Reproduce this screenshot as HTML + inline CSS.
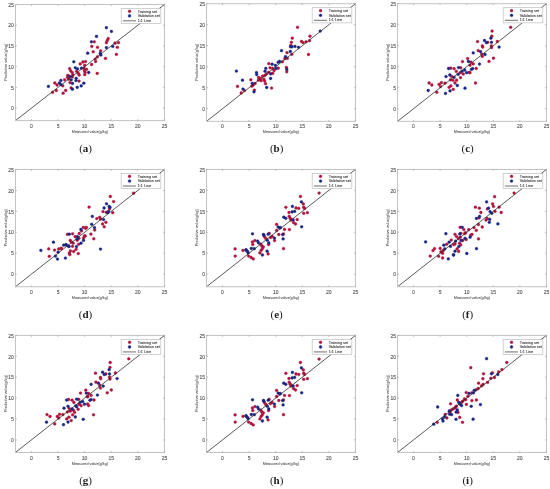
<!DOCTYPE html>
<html><head><meta charset="utf-8"><style>
html,body{margin:0;padding:0;background:#fff;}
svg{display:block;}
.r{fill:#ba0f3c;stroke:#9e1739;stroke-width:0.4;}
.b{fill:#16248e;stroke:#1b2672;stroke-width:0.4;}
.ax{fill:none;stroke:#c2c2c2;stroke-width:1;}
.tk{fill:none;stroke:#999;stroke-width:0.6;}
.d{stroke:#2a2a2a;stroke-width:0.78;}
.ll{stroke:#6e6e6e;stroke-width:1;}
.lg{fill:#fff;stroke:#b4b4b4;stroke-width:0.6;}
.tl{font-family:"Liberation Sans",Arial,sans-serif;font-size:5px;fill:#505050;stroke:#505050;stroke-width:0.1;}
.al{font-family:"Liberation Sans",Arial,sans-serif;font-size:3.75px;fill:#505050;stroke:#505050;stroke-width:0.05;}
.yl{font-size:3.85px;}
.lt{font-family:"Liberation Sans",Arial,sans-serif;font-size:3.75px;fill:#333;stroke:#333;stroke-width:0.08;}
.pl{font-family:"Liberation Serif","Times New Roman",serif;font-size:11px;fill:#1a1a1a;}
.pb{font-weight:bold;}
</style></head><body>
<svg width="550" height="489" viewBox="0 0 550 489">
<circle class="r" cx="94.3" cy="41.8" r="1.4"/>
<circle class="r" cx="108.2" cy="38.6" r="1.4"/>
<circle class="r" cx="107.3" cy="40.5" r="1.4"/>
<circle class="r" cx="106.4" cy="42.7" r="1.4"/>
<circle class="r" cx="115" cy="43.2" r="1.4"/>
<circle class="r" cx="118.5" cy="42.7" r="1.4"/>
<circle class="r" cx="91.8" cy="46.4" r="1.4"/>
<circle class="r" cx="97.5" cy="47.3" r="1.4"/>
<circle class="r" cx="117.3" cy="47.3" r="1.4"/>
<circle class="r" cx="93.2" cy="51.8" r="1.4"/>
<circle class="r" cx="100.6" cy="50.9" r="1.4"/>
<circle class="r" cx="116.4" cy="54.4" r="1.4"/>
<circle class="r" cx="97.4" cy="56.8" r="1.4"/>
<circle class="r" cx="95.2" cy="59.1" r="1.4"/>
<circle class="r" cx="105.5" cy="58.4" r="1.4"/>
<circle class="r" cx="95.6" cy="61.6" r="1.4"/>
<circle class="r" cx="80.2" cy="63.9" r="1.4"/>
<circle class="r" cx="82.9" cy="62" r="1.4"/>
<circle class="r" cx="85.5" cy="61.6" r="1.4"/>
<circle class="r" cx="84.7" cy="65.3" r="1.4"/>
<circle class="r" cx="91.6" cy="64.5" r="1.4"/>
<circle class="r" cx="84" cy="68.2" r="1.4"/>
<circle class="r" cx="86.5" cy="69.3" r="1.4"/>
<circle class="r" cx="84.4" cy="70.7" r="1.4"/>
<circle class="r" cx="85.1" cy="72.5" r="1.4"/>
<circle class="r" cx="84.7" cy="74.7" r="1.4"/>
<circle class="r" cx="97.2" cy="73.4" r="1.4"/>
<circle class="r" cx="69.6" cy="68.7" r="1.4"/>
<circle class="r" cx="70.8" cy="71" r="1.4"/>
<circle class="r" cx="72.3" cy="72.7" r="1.4"/>
<circle class="r" cx="72.8" cy="75" r="1.4"/>
<circle class="r" cx="76.6" cy="71.3" r="1.4"/>
<circle class="r" cx="78.3" cy="73.4" r="1.4"/>
<circle class="r" cx="79.2" cy="75.1" r="1.4"/>
<circle class="r" cx="67.8" cy="75.3" r="1.4"/>
<circle class="r" cx="67.5" cy="77.4" r="1.4"/>
<circle class="r" cx="72.4" cy="76.9" r="1.4"/>
<circle class="r" cx="68.6" cy="79.2" r="1.4"/>
<circle class="r" cx="70" cy="82.6" r="1.4"/>
<circle class="r" cx="79" cy="81.1" r="1.4"/>
<circle class="r" cx="64.6" cy="79.8" r="1.4"/>
<circle class="r" cx="54.8" cy="83" r="1.4"/>
<circle class="r" cx="57" cy="85" r="1.4"/>
<circle class="r" cx="62.8" cy="85.8" r="1.4"/>
<circle class="r" cx="56.3" cy="90.5" r="1.4"/>
<circle class="r" cx="52.6" cy="92.3" r="1.4"/>
<circle class="r" cx="65.7" cy="90.5" r="1.4"/>
<circle class="r" cx="63.1" cy="93.2" r="1.4"/>
<circle class="r" cx="71.1" cy="87.9" r="1.4"/>
<circle class="b" cx="106.4" cy="27.7" r="1.4"/>
<circle class="b" cx="111.4" cy="31.4" r="1.4"/>
<circle class="b" cx="96.5" cy="36.4" r="1.4"/>
<circle class="b" cx="91.4" cy="41.8" r="1.4"/>
<circle class="b" cx="106.4" cy="47.7" r="1.4"/>
<circle class="b" cx="112.7" cy="46.4" r="1.4"/>
<circle class="b" cx="87.7" cy="53.2" r="1.4"/>
<circle class="b" cx="100.2" cy="53.4" r="1.4"/>
<circle class="b" cx="100.9" cy="55" r="1.4"/>
<circle class="b" cx="73.8" cy="61.8" r="1.4"/>
<circle class="b" cx="75.3" cy="67.8" r="1.4"/>
<circle class="b" cx="77.5" cy="68.9" r="1.4"/>
<circle class="b" cx="81.5" cy="68.2" r="1.4"/>
<circle class="b" cx="88.7" cy="72.5" r="1.4"/>
<circle class="b" cx="69.8" cy="76.4" r="1.4"/>
<circle class="b" cx="71.2" cy="79.8" r="1.4"/>
<circle class="b" cx="72.5" cy="83.4" r="1.4"/>
<circle class="b" cx="76.2" cy="78.3" r="1.4"/>
<circle class="b" cx="76" cy="80.6" r="1.4"/>
<circle class="b" cx="60.9" cy="80.5" r="1.4"/>
<circle class="b" cx="59.4" cy="83" r="1.4"/>
<circle class="b" cx="60.9" cy="84.7" r="1.4"/>
<circle class="b" cx="48.4" cy="86.4" r="1.4"/>
<circle class="b" cx="72.4" cy="89.2" r="1.4"/>
<circle class="b" cx="77.2" cy="87.4" r="1.4"/>
<circle class="b" cx="81.2" cy="85.9" r="1.4"/>
<circle class="b" cx="83.8" cy="83.2" r="1.4"/>
<line x1="15.45" y1="120.6" x2="164.45" y2="4.45" class="d"/>
<rect x="15.45" y="4.45" width="149" height="116.15" class="ax"/>
<path d="M31.41 120.6v-1.5M31.41 4.45v1.5M15.45 108.16h1.5M164.45 108.16h-1.5M58.02 120.6v-1.5M58.02 4.45v1.5M15.45 87.41h1.5M164.45 87.41h-1.5M84.63 120.6v-1.5M84.63 4.45v1.5M15.45 66.67h1.5M164.45 66.67h-1.5M111.24 120.6v-1.5M111.24 4.45v1.5M15.45 45.93h1.5M164.45 45.93h-1.5M137.84 120.6v-1.5M137.84 4.45v1.5M15.45 25.19h1.5M164.45 25.19h-1.5M164.45 120.6v-1.5M164.45 4.45v1.5M15.45 4.45h1.5M164.45 4.45h-1.5" class="tk"/>
<text x="31.41" y="128.3" class="tl" text-anchor="middle">0</text>
<text x="13.85" y="110.36" class="tl" text-anchor="end">0</text>
<text x="58.02" y="128.3" class="tl" text-anchor="middle">5</text>
<text x="13.85" y="89.61" class="tl" text-anchor="end">5</text>
<text x="84.63" y="128.3" class="tl" text-anchor="middle">10</text>
<text x="13.85" y="68.87" class="tl" text-anchor="end">10</text>
<text x="111.24" y="128.3" class="tl" text-anchor="middle">15</text>
<text x="13.85" y="48.13" class="tl" text-anchor="end">15</text>
<text x="137.84" y="128.3" class="tl" text-anchor="middle">20</text>
<text x="13.85" y="27.39" class="tl" text-anchor="end">20</text>
<text x="164.45" y="128.3" class="tl" text-anchor="middle">25</text>
<text x="13.85" y="6.65" class="tl" text-anchor="end">25</text>
<text x="89.95" y="133.2" class="al" text-anchor="middle">Measured value(g/kg)</text>
<text transform="translate(6.55,62.23) rotate(-90)" class="al yl" text-anchor="middle">Predictive value(g/kg)</text>
<rect x="121.15" y="8.4" width="39.7" height="15" class="lg"/>
<circle class="r" cx="129.55" cy="11.3" r="1.4"/>
<circle class="b" cx="129.55" cy="15.95" r="1.4"/>
<line x1="122.85" y1="20.85" x2="135.95" y2="20.85" class="ll"/>
<text x="137.65" y="12.65" class="lt">Training set</text>
<text x="137.65" y="17.15" class="lt">Validation set</text>
<text x="137.65" y="21.75" class="lt">1:1 Line</text>
<text x="85.55" y="152" class="pl" text-anchor="middle">(<tspan class="pb">a</tspan>)</text>
<circle class="r" cx="297.5" cy="27.3" r="1.4"/>
<circle class="r" cx="310" cy="36.2" r="1.4"/>
<circle class="r" cx="292.3" cy="38.2" r="1.4"/>
<circle class="r" cx="291.4" cy="42.3" r="1.4"/>
<circle class="r" cx="301.4" cy="41.4" r="1.4"/>
<circle class="r" cx="303" cy="42.6" r="1.4"/>
<circle class="r" cx="306" cy="41.8" r="1.4"/>
<circle class="r" cx="309.5" cy="40.7" r="1.4"/>
<circle class="r" cx="290.9" cy="45.3" r="1.4"/>
<circle class="r" cx="287" cy="52.7" r="1.4"/>
<circle class="r" cx="291.8" cy="54.3" r="1.4"/>
<circle class="r" cx="308.5" cy="54.5" r="1.4"/>
<circle class="r" cx="284.8" cy="58.6" r="1.4"/>
<circle class="r" cx="287.3" cy="58.4" r="1.4"/>
<circle class="r" cx="282.3" cy="61.8" r="1.4"/>
<circle class="r" cx="268.8" cy="63.7" r="1.4"/>
<circle class="r" cx="270" cy="67.8" r="1.4"/>
<circle class="r" cx="272.6" cy="68.4" r="1.4"/>
<circle class="r" cx="278.2" cy="68.2" r="1.4"/>
<circle class="r" cx="274.1" cy="70.5" r="1.4"/>
<circle class="r" cx="286.4" cy="67.5" r="1.4"/>
<circle class="r" cx="286.8" cy="71.8" r="1.4"/>
<circle class="r" cx="268.7" cy="72.3" r="1.4"/>
<circle class="r" cx="272.7" cy="73.3" r="1.4"/>
<circle class="r" cx="266.5" cy="73.9" r="1.4"/>
<circle class="r" cx="264.9" cy="75.5" r="1.4"/>
<circle class="r" cx="262.5" cy="76.1" r="1.4"/>
<circle class="r" cx="258.6" cy="77.5" r="1.4"/>
<circle class="r" cx="260.3" cy="78.5" r="1.4"/>
<circle class="r" cx="258.4" cy="80.2" r="1.4"/>
<circle class="r" cx="261.1" cy="80.7" r="1.4"/>
<circle class="r" cx="263.8" cy="79.1" r="1.4"/>
<circle class="r" cx="264.6" cy="81" r="1.4"/>
<circle class="r" cx="265.5" cy="83.7" r="1.4"/>
<circle class="r" cx="250.8" cy="79.8" r="1.4"/>
<circle class="r" cx="255.1" cy="83.5" r="1.4"/>
<circle class="r" cx="253.2" cy="85.1" r="1.4"/>
<circle class="r" cx="251.8" cy="86.2" r="1.4"/>
<circle class="r" cx="271.6" cy="88.1" r="1.4"/>
<circle class="r" cx="254.4" cy="90.1" r="1.4"/>
<circle class="r" cx="237.5" cy="86.4" r="1.4"/>
<circle class="r" cx="244.4" cy="90.6" r="1.4"/>
<circle class="r" cx="241.2" cy="92.9" r="1.4"/>
<circle class="b" cx="320.2" cy="31.1" r="1.4"/>
<circle class="b" cx="290.5" cy="46.8" r="1.4"/>
<circle class="b" cx="292" cy="46.8" r="1.4"/>
<circle class="b" cx="295" cy="46.4" r="1.4"/>
<circle class="b" cx="298.5" cy="47.3" r="1.4"/>
<circle class="b" cx="281.5" cy="50.7" r="1.4"/>
<circle class="b" cx="290.3" cy="51.5" r="1.4"/>
<circle class="b" cx="285.5" cy="56.7" r="1.4"/>
<circle class="b" cx="279.5" cy="61.4" r="1.4"/>
<circle class="b" cx="278.2" cy="62.3" r="1.4"/>
<circle class="b" cx="272.1" cy="64.2" r="1.4"/>
<circle class="b" cx="275.4" cy="65.3" r="1.4"/>
<circle class="b" cx="276" cy="68.5" r="1.4"/>
<circle class="b" cx="286.8" cy="69.4" r="1.4"/>
<circle class="b" cx="265.8" cy="68.4" r="1.4"/>
<circle class="b" cx="265" cy="71.2" r="1.4"/>
<circle class="b" cx="270.6" cy="73.9" r="1.4"/>
<circle class="b" cx="270.6" cy="78.5" r="1.4"/>
<circle class="b" cx="256.5" cy="72.6" r="1.4"/>
<circle class="b" cx="256.7" cy="74.6" r="1.4"/>
<circle class="b" cx="252.3" cy="83.3" r="1.4"/>
<circle class="b" cx="266.7" cy="87.5" r="1.4"/>
<circle class="b" cx="254" cy="91.8" r="1.4"/>
<circle class="b" cx="236.4" cy="71.1" r="1.4"/>
<circle class="b" cx="242.5" cy="80.2" r="1.4"/>
<circle class="b" cx="243" cy="89.1" r="1.4"/>
<line x1="206.55" y1="121.35" x2="355.45" y2="3.7" class="d"/>
<rect x="206.55" y="3.7" width="148.9" height="117.65" class="ax"/>
<path d="M222.5 121.35v-1.5M222.5 3.7v1.5M206.55 108.74h1.5M355.45 108.74h-1.5M249.09 121.35v-1.5M249.09 3.7v1.5M206.55 87.74h1.5M355.45 87.74h-1.5M275.68 121.35v-1.5M275.68 3.7v1.5M206.55 66.73h1.5M355.45 66.73h-1.5M302.27 121.35v-1.5M302.27 3.7v1.5M206.55 45.72h1.5M355.45 45.72h-1.5M328.86 121.35v-1.5M328.86 3.7v1.5M206.55 24.71h1.5M355.45 24.71h-1.5M355.45 121.35v-1.5M355.45 3.7v1.5M206.55 3.7h1.5M355.45 3.7h-1.5" class="tk"/>
<text x="222.5" y="128.3" class="tl" text-anchor="middle">0</text>
<text x="204.95" y="110.94" class="tl" text-anchor="end">0</text>
<text x="249.09" y="128.3" class="tl" text-anchor="middle">5</text>
<text x="204.95" y="89.94" class="tl" text-anchor="end">5</text>
<text x="275.68" y="128.3" class="tl" text-anchor="middle">10</text>
<text x="204.95" y="68.93" class="tl" text-anchor="end">10</text>
<text x="302.27" y="128.3" class="tl" text-anchor="middle">15</text>
<text x="204.95" y="47.92" class="tl" text-anchor="end">15</text>
<text x="328.86" y="128.3" class="tl" text-anchor="middle">20</text>
<text x="204.95" y="26.91" class="tl" text-anchor="end">20</text>
<text x="355.45" y="128.3" class="tl" text-anchor="middle">25</text>
<text x="204.95" y="5.9" class="tl" text-anchor="end">25</text>
<text x="281" y="133.2" class="al" text-anchor="middle">Measured value(g/kg)</text>
<text transform="translate(197.65,62.23) rotate(-90)" class="al yl" text-anchor="middle">Predictive value(g/kg)</text>
<rect x="312.15" y="7.7" width="39.7" height="15.19" class="lg"/>
<circle class="r" cx="320.55" cy="10.64" r="1.4"/>
<circle class="b" cx="320.55" cy="15.35" r="1.4"/>
<line x1="313.85" y1="20.31" x2="326.95" y2="20.31" class="ll"/>
<text x="328.65" y="12.01" class="lt">Training set</text>
<text x="328.65" y="16.56" class="lt">Validation set</text>
<text x="328.65" y="21.22" class="lt">1:1 Line</text>
<text x="276.65" y="152" class="pl" text-anchor="middle">(<tspan class="pb">b</tspan>)</text>
<circle class="r" cx="510.7" cy="27.3" r="1.4"/>
<circle class="r" cx="492.1" cy="31.1" r="1.4"/>
<circle class="r" cx="491.8" cy="36.2" r="1.4"/>
<circle class="r" cx="487.7" cy="42.3" r="1.4"/>
<circle class="r" cx="497.3" cy="41.5" r="1.4"/>
<circle class="r" cx="477.5" cy="41.6" r="1.4"/>
<circle class="r" cx="482.3" cy="45.9" r="1.4"/>
<circle class="r" cx="482.7" cy="47.1" r="1.4"/>
<circle class="r" cx="491.4" cy="45.9" r="1.4"/>
<circle class="r" cx="491.5" cy="47.5" r="1.4"/>
<circle class="r" cx="478.2" cy="50.7" r="1.4"/>
<circle class="r" cx="481.8" cy="54.1" r="1.4"/>
<circle class="r" cx="482.3" cy="56.4" r="1.4"/>
<circle class="r" cx="493.4" cy="58.2" r="1.4"/>
<circle class="r" cx="467.7" cy="58.6" r="1.4"/>
<circle class="r" cx="489" cy="61.4" r="1.4"/>
<circle class="r" cx="462.5" cy="61.6" r="1.4"/>
<circle class="r" cx="470.9" cy="62.1" r="1.4"/>
<circle class="r" cx="473.2" cy="63.9" r="1.4"/>
<circle class="r" cx="470" cy="65.2" r="1.4"/>
<circle class="r" cx="476.2" cy="68.5" r="1.4"/>
<circle class="r" cx="470" cy="72.7" r="1.4"/>
<circle class="r" cx="469.1" cy="72.3" r="1.4"/>
<circle class="r" cx="450.8" cy="68.2" r="1.4"/>
<circle class="r" cx="454.1" cy="68.7" r="1.4"/>
<circle class="r" cx="460.8" cy="67.8" r="1.4"/>
<circle class="r" cx="456.3" cy="71.4" r="1.4"/>
<circle class="r" cx="463.3" cy="74.1" r="1.4"/>
<circle class="r" cx="460.5" cy="72.7" r="1.4"/>
<circle class="r" cx="451.7" cy="76.4" r="1.4"/>
<circle class="r" cx="460.5" cy="77.7" r="1.4"/>
<circle class="r" cx="450.5" cy="79.8" r="1.4"/>
<circle class="r" cx="452.8" cy="80.3" r="1.4"/>
<circle class="r" cx="456.6" cy="80.2" r="1.4"/>
<circle class="r" cx="455" cy="83" r="1.4"/>
<circle class="r" cx="475.5" cy="83" r="1.4"/>
<circle class="r" cx="441.4" cy="82.7" r="1.4"/>
<circle class="r" cx="429.1" cy="83" r="1.4"/>
<circle class="r" cx="431.8" cy="85" r="1.4"/>
<circle class="r" cx="439.1" cy="84.3" r="1.4"/>
<circle class="r" cx="440.5" cy="86.6" r="1.4"/>
<circle class="r" cx="445" cy="83.2" r="1.4"/>
<circle class="r" cx="449.1" cy="87.3" r="1.4"/>
<circle class="r" cx="450.9" cy="85.9" r="1.4"/>
<circle class="r" cx="453.2" cy="89.4" r="1.4"/>
<circle class="r" cx="436.8" cy="92.3" r="1.4"/>
<circle class="b" cx="490.9" cy="38.2" r="1.4"/>
<circle class="b" cx="484.5" cy="40.5" r="1.4"/>
<circle class="b" cx="486.4" cy="42.7" r="1.4"/>
<circle class="b" cx="491.5" cy="42.3" r="1.4"/>
<circle class="b" cx="499.1" cy="47.1" r="1.4"/>
<circle class="b" cx="480.5" cy="51.6" r="1.4"/>
<circle class="b" cx="473.2" cy="52.9" r="1.4"/>
<circle class="b" cx="485" cy="54.5" r="1.4"/>
<circle class="b" cx="468.4" cy="61.5" r="1.4"/>
<circle class="b" cx="479.5" cy="64.1" r="1.4"/>
<circle class="b" cx="472.7" cy="68.6" r="1.4"/>
<circle class="b" cx="471.4" cy="69.4" r="1.4"/>
<circle class="b" cx="448.6" cy="68.5" r="1.4"/>
<circle class="b" cx="458.6" cy="67.6" r="1.4"/>
<circle class="b" cx="462" cy="71.3" r="1.4"/>
<circle class="b" cx="464.7" cy="70" r="1.4"/>
<circle class="b" cx="466.6" cy="72.7" r="1.4"/>
<circle class="b" cx="458.2" cy="74.3" r="1.4"/>
<circle class="b" cx="449.8" cy="75" r="1.4"/>
<circle class="b" cx="446" cy="76.6" r="1.4"/>
<circle class="b" cx="454.1" cy="77.4" r="1.4"/>
<circle class="b" cx="457.3" cy="85.5" r="1.4"/>
<circle class="b" cx="450" cy="90.9" r="1.4"/>
<circle class="b" cx="428.2" cy="90.5" r="1.4"/>
<circle class="b" cx="445.5" cy="93.4" r="1.4"/>
<circle class="b" cx="465" cy="88.2" r="1.4"/>
<line x1="397.55" y1="121.35" x2="546.45" y2="3.7" class="d"/>
<rect x="397.55" y="3.7" width="148.9" height="117.65" class="ax"/>
<path d="M413.5 121.35v-1.5M413.5 3.7v1.5M397.55 108.74h1.5M546.45 108.74h-1.5M440.09 121.35v-1.5M440.09 3.7v1.5M397.55 87.74h1.5M546.45 87.74h-1.5M466.68 121.35v-1.5M466.68 3.7v1.5M397.55 66.73h1.5M546.45 66.73h-1.5M493.27 121.35v-1.5M493.27 3.7v1.5M397.55 45.72h1.5M546.45 45.72h-1.5M519.86 121.35v-1.5M519.86 3.7v1.5M397.55 24.71h1.5M546.45 24.71h-1.5M546.45 121.35v-1.5M546.45 3.7v1.5M397.55 3.7h1.5M546.45 3.7h-1.5" class="tk"/>
<text x="413.5" y="128.3" class="tl" text-anchor="middle">0</text>
<text x="395.95" y="110.94" class="tl" text-anchor="end">0</text>
<text x="440.09" y="128.3" class="tl" text-anchor="middle">5</text>
<text x="395.95" y="89.94" class="tl" text-anchor="end">5</text>
<text x="466.68" y="128.3" class="tl" text-anchor="middle">10</text>
<text x="395.95" y="68.93" class="tl" text-anchor="end">10</text>
<text x="493.27" y="128.3" class="tl" text-anchor="middle">15</text>
<text x="395.95" y="47.92" class="tl" text-anchor="end">15</text>
<text x="519.86" y="128.3" class="tl" text-anchor="middle">20</text>
<text x="395.95" y="26.91" class="tl" text-anchor="end">20</text>
<text x="546.45" y="128.3" class="tl" text-anchor="middle">25</text>
<text x="395.95" y="5.9" class="tl" text-anchor="end">25</text>
<text x="472" y="133.2" class="al" text-anchor="middle">Measured value(g/kg)</text>
<text transform="translate(388.65,62.23) rotate(-90)" class="al yl" text-anchor="middle">Predictive value(g/kg)</text>
<rect x="503.15" y="7.7" width="39.7" height="15.19" class="lg"/>
<circle class="r" cx="511.55" cy="10.64" r="1.4"/>
<circle class="b" cx="511.55" cy="15.35" r="1.4"/>
<line x1="504.85" y1="20.31" x2="517.95" y2="20.31" class="ll"/>
<text x="519.65" y="12.01" class="lt">Training set</text>
<text x="519.65" y="16.56" class="lt">Validation set</text>
<text x="519.65" y="21.22" class="lt">1:1 Line</text>
<text x="467.65" y="152" class="pl" text-anchor="middle">(<tspan class="pb">c</tspan>)</text>
<circle class="r" cx="133.6" cy="193.2" r="1.4"/>
<circle class="r" cx="110.3" cy="196.5" r="1.4"/>
<circle class="r" cx="113.6" cy="201.6" r="1.4"/>
<circle class="r" cx="109.5" cy="208.8" r="1.4"/>
<circle class="r" cx="89.1" cy="207.1" r="1.4"/>
<circle class="r" cx="103" cy="211.6" r="1.4"/>
<circle class="r" cx="106.2" cy="212.3" r="1.4"/>
<circle class="r" cx="112.7" cy="212.7" r="1.4"/>
<circle class="r" cx="96.8" cy="218.6" r="1.4"/>
<circle class="r" cx="99.7" cy="217.3" r="1.4"/>
<circle class="r" cx="100.6" cy="219.2" r="1.4"/>
<circle class="r" cx="105.9" cy="222.3" r="1.4"/>
<circle class="r" cx="102.6" cy="224" r="1.4"/>
<circle class="r" cx="104.2" cy="226.8" r="1.4"/>
<circle class="r" cx="94.7" cy="230" r="1.4"/>
<circle class="r" cx="86.4" cy="227.4" r="1.4"/>
<circle class="r" cx="83.3" cy="227.4" r="1.4"/>
<circle class="r" cx="85.5" cy="228.3" r="1.4"/>
<circle class="r" cx="81.5" cy="230.9" r="1.4"/>
<circle class="r" cx="90.9" cy="234.1" r="1.4"/>
<circle class="r" cx="93.8" cy="238.8" r="1.4"/>
<circle class="r" cx="67.4" cy="234.3" r="1.4"/>
<circle class="r" cx="72.6" cy="233.8" r="1.4"/>
<circle class="r" cx="79.2" cy="233.5" r="1.4"/>
<circle class="r" cx="75.1" cy="236.7" r="1.4"/>
<circle class="r" cx="78.9" cy="238.3" r="1.4"/>
<circle class="r" cx="77.2" cy="240.3" r="1.4"/>
<circle class="r" cx="85.2" cy="236" r="1.4"/>
<circle class="r" cx="83.6" cy="238" r="1.4"/>
<circle class="r" cx="84.5" cy="235.9" r="1.4"/>
<circle class="r" cx="78.6" cy="244.3" r="1.4"/>
<circle class="r" cx="70.2" cy="240.4" r="1.4"/>
<circle class="r" cx="71.2" cy="241.8" r="1.4"/>
<circle class="r" cx="73.1" cy="243.2" r="1.4"/>
<circle class="r" cx="72.5" cy="246.3" r="1.4"/>
<circle class="r" cx="61.1" cy="248.5" r="1.4"/>
<circle class="r" cx="76.1" cy="249.4" r="1.4"/>
<circle class="r" cx="70.4" cy="251" r="1.4"/>
<circle class="r" cx="73.7" cy="251.5" r="1.4"/>
<circle class="r" cx="69.3" cy="253.1" r="1.4"/>
<circle class="r" cx="78.3" cy="253.6" r="1.4"/>
<circle class="r" cx="48.7" cy="248.9" r="1.4"/>
<circle class="r" cx="54.6" cy="250.1" r="1.4"/>
<circle class="r" cx="58.7" cy="248.9" r="1.4"/>
<circle class="r" cx="61.2" cy="248.5" r="1.4"/>
<circle class="r" cx="49.3" cy="256.3" r="1.4"/>
<circle class="r" cx="69.8" cy="254.6" r="1.4"/>
<circle class="b" cx="106.5" cy="203.8" r="1.4"/>
<circle class="b" cx="109.1" cy="206.4" r="1.4"/>
<circle class="b" cx="110" cy="207.3" r="1.4"/>
<circle class="b" cx="104.1" cy="208" r="1.4"/>
<circle class="b" cx="108.5" cy="211.4" r="1.4"/>
<circle class="b" cx="107.7" cy="212.7" r="1.4"/>
<circle class="b" cx="92.3" cy="216.4" r="1.4"/>
<circle class="b" cx="103.6" cy="219.6" r="1.4"/>
<circle class="b" cx="91.7" cy="224.3" r="1.4"/>
<circle class="b" cx="94.5" cy="227.6" r="1.4"/>
<circle class="b" cx="80.9" cy="229.4" r="1.4"/>
<circle class="b" cx="69.3" cy="234.2" r="1.4"/>
<circle class="b" cx="77.4" cy="236.6" r="1.4"/>
<circle class="b" cx="77.2" cy="238.9" r="1.4"/>
<circle class="b" cx="83.5" cy="240.4" r="1.4"/>
<circle class="b" cx="81" cy="243.2" r="1.4"/>
<circle class="b" cx="63.7" cy="245.2" r="1.4"/>
<circle class="b" cx="65.9" cy="244.7" r="1.4"/>
<circle class="b" cx="68.6" cy="246.3" r="1.4"/>
<circle class="b" cx="76.4" cy="246.6" r="1.4"/>
<circle class="b" cx="100.5" cy="249.1" r="1.4"/>
<circle class="b" cx="53.4" cy="242.2" r="1.4"/>
<circle class="b" cx="40.9" cy="250.4" r="1.4"/>
<circle class="b" cx="58.1" cy="252.2" r="1.4"/>
<circle class="b" cx="66.5" cy="245" r="1.4"/>
<circle class="b" cx="69" cy="246.5" r="1.4"/>
<circle class="b" cx="55.5" cy="256.1" r="1.4"/>
<circle class="b" cx="57.5" cy="259.1" r="1.4"/>
<circle class="b" cx="65.4" cy="258.1" r="1.4"/>
<line x1="15.45" y1="286.75" x2="164.45" y2="169.45" class="d"/>
<rect x="15.45" y="169.45" width="149" height="117.3" class="ax"/>
<path d="M31.41 286.75v-1.5M31.41 169.45v1.5M15.45 274.18h1.5M164.45 274.18h-1.5M58.02 286.75v-1.5M58.02 169.45v1.5M15.45 253.24h1.5M164.45 253.24h-1.5M84.63 286.75v-1.5M84.63 169.45v1.5M15.45 232.29h1.5M164.45 232.29h-1.5M111.24 286.75v-1.5M111.24 169.45v1.5M15.45 211.34h1.5M164.45 211.34h-1.5M137.84 286.75v-1.5M137.84 169.45v1.5M15.45 190.4h1.5M164.45 190.4h-1.5M164.45 286.75v-1.5M164.45 169.45v1.5M15.45 169.45h1.5M164.45 169.45h-1.5" class="tk"/>
<text x="31.41" y="294.3" class="tl" text-anchor="middle">0</text>
<text x="13.85" y="276.38" class="tl" text-anchor="end">0</text>
<text x="58.02" y="294.3" class="tl" text-anchor="middle">5</text>
<text x="13.85" y="255.44" class="tl" text-anchor="end">5</text>
<text x="84.63" y="294.3" class="tl" text-anchor="middle">10</text>
<text x="13.85" y="234.49" class="tl" text-anchor="end">10</text>
<text x="111.24" y="294.3" class="tl" text-anchor="middle">15</text>
<text x="13.85" y="213.54" class="tl" text-anchor="end">15</text>
<text x="137.84" y="294.3" class="tl" text-anchor="middle">20</text>
<text x="13.85" y="192.6" class="tl" text-anchor="end">20</text>
<text x="164.45" y="294.3" class="tl" text-anchor="middle">25</text>
<text x="13.85" y="171.65" class="tl" text-anchor="end">25</text>
<text x="89.95" y="299.2" class="al" text-anchor="middle">Measured value(g/kg)</text>
<text transform="translate(6.55,227.8) rotate(-90)" class="al yl" text-anchor="middle">Predictive value(g/kg)</text>
<rect x="121.15" y="173.44" width="39.7" height="15.15" class="lg"/>
<circle class="r" cx="129.55" cy="176.37" r="1.4"/>
<circle class="b" cx="129.55" cy="181.06" r="1.4"/>
<line x1="122.85" y1="186.01" x2="135.95" y2="186.01" class="ll"/>
<text x="137.65" y="177.73" class="lt">Training set</text>
<text x="137.65" y="182.28" class="lt">Validation set</text>
<text x="137.65" y="186.92" class="lt">1:1 Line</text>
<text x="85.55" y="318" class="pl" text-anchor="middle">(<tspan class="pb">d</tspan>)</text>
<circle class="r" cx="319.1" cy="193.1" r="1.4"/>
<circle class="r" cx="300.4" cy="196.5" r="1.4"/>
<circle class="r" cx="303.3" cy="203.9" r="1.4"/>
<circle class="r" cx="303.7" cy="207.2" r="1.4"/>
<circle class="r" cx="304.5" cy="208.4" r="1.4"/>
<circle class="r" cx="285.9" cy="207.3" r="1.4"/>
<circle class="r" cx="296" cy="208" r="1.4"/>
<circle class="r" cx="298.7" cy="208.4" r="1.4"/>
<circle class="r" cx="289" cy="212.5" r="1.4"/>
<circle class="r" cx="303.7" cy="213.3" r="1.4"/>
<circle class="r" cx="307.4" cy="212.7" r="1.4"/>
<circle class="r" cx="289.2" cy="216.3" r="1.4"/>
<circle class="r" cx="290.2" cy="218.2" r="1.4"/>
<circle class="r" cx="291" cy="220.1" r="1.4"/>
<circle class="r" cx="297.2" cy="219.6" r="1.4"/>
<circle class="r" cx="293.5" cy="222.6" r="1.4"/>
<circle class="r" cx="295.5" cy="224" r="1.4"/>
<circle class="r" cx="284.5" cy="229.4" r="1.4"/>
<circle class="r" cx="289.4" cy="229.6" r="1.4"/>
<circle class="r" cx="276.6" cy="224.4" r="1.4"/>
<circle class="r" cx="276.6" cy="230.5" r="1.4"/>
<circle class="r" cx="278.8" cy="234.5" r="1.4"/>
<circle class="r" cx="283.5" cy="234" r="1.4"/>
<circle class="r" cx="283.5" cy="248.7" r="1.4"/>
<circle class="r" cx="269.2" cy="233.4" r="1.4"/>
<circle class="r" cx="264.5" cy="236.7" r="1.4"/>
<circle class="r" cx="265.7" cy="238.4" r="1.4"/>
<circle class="r" cx="270.6" cy="237.6" r="1.4"/>
<circle class="r" cx="272.1" cy="236.5" r="1.4"/>
<circle class="r" cx="274.6" cy="240.6" r="1.4"/>
<circle class="r" cx="268.6" cy="244.6" r="1.4"/>
<circle class="r" cx="252.4" cy="242" r="1.4"/>
<circle class="r" cx="254.9" cy="240.6" r="1.4"/>
<circle class="r" cx="252.8" cy="244.6" r="1.4"/>
<circle class="r" cx="260.8" cy="244.2" r="1.4"/>
<circle class="r" cx="261.8" cy="246" r="1.4"/>
<circle class="r" cx="263.3" cy="246.8" r="1.4"/>
<circle class="r" cx="262.4" cy="248.7" r="1.4"/>
<circle class="r" cx="261.1" cy="250.4" r="1.4"/>
<circle class="r" cx="259.9" cy="252.9" r="1.4"/>
<circle class="r" cx="268.1" cy="253.9" r="1.4"/>
<circle class="r" cx="248.6" cy="256.1" r="1.4"/>
<circle class="r" cx="251.1" cy="257.5" r="1.4"/>
<circle class="r" cx="253.2" cy="258.9" r="1.4"/>
<circle class="r" cx="235.1" cy="248.9" r="1.4"/>
<circle class="r" cx="235.2" cy="256.1" r="1.4"/>
<circle class="r" cx="243" cy="250.4" r="1.4"/>
<circle class="b" cx="301.4" cy="201.9" r="1.4"/>
<circle class="b" cx="292.4" cy="206.4" r="1.4"/>
<circle class="b" cx="294.6" cy="211.4" r="1.4"/>
<circle class="b" cx="292.1" cy="211.9" r="1.4"/>
<circle class="b" cx="283.8" cy="217.2" r="1.4"/>
<circle class="b" cx="285.8" cy="218.3" r="1.4"/>
<circle class="b" cx="293.1" cy="219.9" r="1.4"/>
<circle class="b" cx="301.7" cy="226.8" r="1.4"/>
<circle class="b" cx="280.4" cy="227.6" r="1.4"/>
<circle class="b" cx="278.2" cy="227.1" r="1.4"/>
<circle class="b" cx="279.9" cy="227.9" r="1.4"/>
<circle class="b" cx="282.6" cy="234.6" r="1.4"/>
<circle class="b" cx="283.1" cy="238.9" r="1.4"/>
<circle class="b" cx="252.5" cy="233.8" r="1.4"/>
<circle class="b" cx="263.5" cy="234.5" r="1.4"/>
<circle class="b" cx="268.2" cy="234.2" r="1.4"/>
<circle class="b" cx="263.8" cy="235.3" r="1.4"/>
<circle class="b" cx="274.4" cy="238.1" r="1.4"/>
<circle class="b" cx="267.3" cy="240.3" r="1.4"/>
<circle class="b" cx="268.8" cy="242.9" r="1.4"/>
<circle class="b" cx="257.6" cy="241.1" r="1.4"/>
<circle class="b" cx="258.5" cy="242.9" r="1.4"/>
<circle class="b" cx="262.4" cy="255" r="1.4"/>
<circle class="b" cx="267.1" cy="251.2" r="1.4"/>
<circle class="b" cx="251.3" cy="248.5" r="1.4"/>
<circle class="b" cx="254.3" cy="248.7" r="1.4"/>
<circle class="b" cx="246.1" cy="249.9" r="1.4"/>
<circle class="b" cx="247.5" cy="251.4" r="1.4"/>
<circle class="b" cx="248.1" cy="252.8" r="1.4"/>
<circle class="b" cx="246" cy="250" r="1.4"/>
<line x1="206.55" y1="286.75" x2="355.45" y2="169.45" class="d"/>
<rect x="206.55" y="169.45" width="148.9" height="117.3" class="ax"/>
<path d="M222.5 286.75v-1.5M222.5 169.45v1.5M206.55 274.18h1.5M355.45 274.18h-1.5M249.09 286.75v-1.5M249.09 169.45v1.5M206.55 253.24h1.5M355.45 253.24h-1.5M275.68 286.75v-1.5M275.68 169.45v1.5M206.55 232.29h1.5M355.45 232.29h-1.5M302.27 286.75v-1.5M302.27 169.45v1.5M206.55 211.34h1.5M355.45 211.34h-1.5M328.86 286.75v-1.5M328.86 169.45v1.5M206.55 190.4h1.5M355.45 190.4h-1.5M355.45 286.75v-1.5M355.45 169.45v1.5M206.55 169.45h1.5M355.45 169.45h-1.5" class="tk"/>
<text x="222.5" y="294.3" class="tl" text-anchor="middle">0</text>
<text x="204.95" y="276.38" class="tl" text-anchor="end">0</text>
<text x="249.09" y="294.3" class="tl" text-anchor="middle">5</text>
<text x="204.95" y="255.44" class="tl" text-anchor="end">5</text>
<text x="275.68" y="294.3" class="tl" text-anchor="middle">10</text>
<text x="204.95" y="234.49" class="tl" text-anchor="end">10</text>
<text x="302.27" y="294.3" class="tl" text-anchor="middle">15</text>
<text x="204.95" y="213.54" class="tl" text-anchor="end">15</text>
<text x="328.86" y="294.3" class="tl" text-anchor="middle">20</text>
<text x="204.95" y="192.6" class="tl" text-anchor="end">20</text>
<text x="355.45" y="294.3" class="tl" text-anchor="middle">25</text>
<text x="204.95" y="171.65" class="tl" text-anchor="end">25</text>
<text x="281" y="299.2" class="al" text-anchor="middle">Measured value(g/kg)</text>
<text transform="translate(197.65,227.8) rotate(-90)" class="al yl" text-anchor="middle">Predictive value(g/kg)</text>
<rect x="312.15" y="173.44" width="39.7" height="15.15" class="lg"/>
<circle class="r" cx="320.55" cy="176.37" r="1.4"/>
<circle class="b" cx="320.55" cy="181.06" r="1.4"/>
<line x1="313.85" y1="186.01" x2="326.95" y2="186.01" class="ll"/>
<text x="328.65" y="177.73" class="lt">Training set</text>
<text x="328.65" y="182.28" class="lt">Validation set</text>
<text x="328.65" y="186.92" class="lt">1:1 Line</text>
<text x="276.65" y="318" class="pl" text-anchor="middle">(<tspan class="pb">e</tspan>)</text>
<circle class="r" cx="514.1" cy="193.1" r="1.4"/>
<circle class="r" cx="494.6" cy="196.7" r="1.4"/>
<circle class="r" cx="492.6" cy="203.9" r="1.4"/>
<circle class="r" cx="493.4" cy="206.4" r="1.4"/>
<circle class="r" cx="499.1" cy="207.2" r="1.4"/>
<circle class="r" cx="487.4" cy="208.9" r="1.4"/>
<circle class="r" cx="475.4" cy="207.2" r="1.4"/>
<circle class="r" cx="479.3" cy="208.2" r="1.4"/>
<circle class="r" cx="495" cy="211.4" r="1.4"/>
<circle class="r" cx="501.2" cy="212.5" r="1.4"/>
<circle class="r" cx="480.9" cy="212.5" r="1.4"/>
<circle class="r" cx="479" cy="217.9" r="1.4"/>
<circle class="r" cx="487.1" cy="218.5" r="1.4"/>
<circle class="r" cx="486" cy="220.1" r="1.4"/>
<circle class="r" cx="478.4" cy="224.5" r="1.4"/>
<circle class="r" cx="482.2" cy="227" r="1.4"/>
<circle class="r" cx="474" cy="227.7" r="1.4"/>
<circle class="r" cx="476.3" cy="230.4" r="1.4"/>
<circle class="r" cx="468.7" cy="229.7" r="1.4"/>
<circle class="r" cx="460.1" cy="227.3" r="1.4"/>
<circle class="r" cx="463.8" cy="229.6" r="1.4"/>
<circle class="r" cx="472" cy="234.5" r="1.4"/>
<circle class="r" cx="470.8" cy="235.2" r="1.4"/>
<circle class="r" cx="478.5" cy="238.9" r="1.4"/>
<circle class="r" cx="455" cy="234.3" r="1.4"/>
<circle class="r" cx="460.9" cy="233.3" r="1.4"/>
<circle class="r" cx="456.5" cy="236.6" r="1.4"/>
<circle class="r" cx="460.2" cy="237.2" r="1.4"/>
<circle class="r" cx="458.5" cy="238.6" r="1.4"/>
<circle class="r" cx="464.7" cy="233.6" r="1.4"/>
<circle class="r" cx="465.6" cy="232.7" r="1.4"/>
<circle class="r" cx="466.2" cy="239.5" r="1.4"/>
<circle class="r" cx="462.7" cy="240.5" r="1.4"/>
<circle class="r" cx="451.3" cy="240.1" r="1.4"/>
<circle class="r" cx="446.7" cy="244.3" r="1.4"/>
<circle class="r" cx="453.6" cy="244.6" r="1.4"/>
<circle class="r" cx="455" cy="244" r="1.4"/>
<circle class="r" cx="459.6" cy="243.2" r="1.4"/>
<circle class="r" cx="460.7" cy="244.9" r="1.4"/>
<circle class="r" cx="457.1" cy="248.8" r="1.4"/>
<circle class="r" cx="458.6" cy="251.4" r="1.4"/>
<circle class="r" cx="443.2" cy="250.6" r="1.4"/>
<circle class="r" cx="434.5" cy="248.7" r="1.4"/>
<circle class="r" cx="433" cy="250.6" r="1.4"/>
<circle class="r" cx="440.2" cy="248.5" r="1.4"/>
<circle class="r" cx="441" cy="251.9" r="1.4"/>
<circle class="r" cx="442.6" cy="253.3" r="1.4"/>
<circle class="r" cx="430.2" cy="256.1" r="1.4"/>
<circle class="r" cx="438.6" cy="256.3" r="1.4"/>
<circle class="r" cx="442.6" cy="258" r="1.4"/>
<circle class="b" cx="486.6" cy="201.9" r="1.4"/>
<circle class="b" cx="488.5" cy="208.2" r="1.4"/>
<circle class="b" cx="490.1" cy="211.7" r="1.4"/>
<circle class="b" cx="491.8" cy="213.3" r="1.4"/>
<circle class="b" cx="479.5" cy="216.4" r="1.4"/>
<circle class="b" cx="476.4" cy="218.5" r="1.4"/>
<circle class="b" cx="489.7" cy="219.4" r="1.4"/>
<circle class="b" cx="489.3" cy="222.3" r="1.4"/>
<circle class="b" cx="497.9" cy="223.9" r="1.4"/>
<circle class="b" cx="462.2" cy="227.3" r="1.4"/>
<circle class="b" cx="470.1" cy="237.2" r="1.4"/>
<circle class="b" cx="476.5" cy="248.7" r="1.4"/>
<circle class="b" cx="466.8" cy="253.5" r="1.4"/>
<circle class="b" cx="445.9" cy="233.7" r="1.4"/>
<circle class="b" cx="459.8" cy="234" r="1.4"/>
<circle class="b" cx="465" cy="238.3" r="1.4"/>
<circle class="b" cx="461.2" cy="240.4" r="1.4"/>
<circle class="b" cx="455.6" cy="241.2" r="1.4"/>
<circle class="b" cx="449.1" cy="242.2" r="1.4"/>
<circle class="b" cx="443.8" cy="245.2" r="1.4"/>
<circle class="b" cx="450.5" cy="246.4" r="1.4"/>
<circle class="b" cx="458.8" cy="246.6" r="1.4"/>
<circle class="b" cx="455" cy="251.2" r="1.4"/>
<circle class="b" cx="453.6" cy="254.9" r="1.4"/>
<circle class="b" cx="444.8" cy="248.9" r="1.4"/>
<circle class="b" cx="425.6" cy="241.9" r="1.4"/>
<circle class="b" cx="448.3" cy="258.9" r="1.4"/>
<circle class="b" cx="453.4" cy="255" r="1.4"/>
<line x1="397.55" y1="286.75" x2="546.45" y2="169.45" class="d"/>
<rect x="397.55" y="169.45" width="148.9" height="117.3" class="ax"/>
<path d="M413.5 286.75v-1.5M413.5 169.45v1.5M397.55 274.18h1.5M546.45 274.18h-1.5M440.09 286.75v-1.5M440.09 169.45v1.5M397.55 253.24h1.5M546.45 253.24h-1.5M466.68 286.75v-1.5M466.68 169.45v1.5M397.55 232.29h1.5M546.45 232.29h-1.5M493.27 286.75v-1.5M493.27 169.45v1.5M397.55 211.34h1.5M546.45 211.34h-1.5M519.86 286.75v-1.5M519.86 169.45v1.5M397.55 190.4h1.5M546.45 190.4h-1.5M546.45 286.75v-1.5M546.45 169.45v1.5M397.55 169.45h1.5M546.45 169.45h-1.5" class="tk"/>
<text x="413.5" y="294.3" class="tl" text-anchor="middle">0</text>
<text x="395.95" y="276.38" class="tl" text-anchor="end">0</text>
<text x="440.09" y="294.3" class="tl" text-anchor="middle">5</text>
<text x="395.95" y="255.44" class="tl" text-anchor="end">5</text>
<text x="466.68" y="294.3" class="tl" text-anchor="middle">10</text>
<text x="395.95" y="234.49" class="tl" text-anchor="end">10</text>
<text x="493.27" y="294.3" class="tl" text-anchor="middle">15</text>
<text x="395.95" y="213.54" class="tl" text-anchor="end">15</text>
<text x="519.86" y="294.3" class="tl" text-anchor="middle">20</text>
<text x="395.95" y="192.6" class="tl" text-anchor="end">20</text>
<text x="546.45" y="294.3" class="tl" text-anchor="middle">25</text>
<text x="395.95" y="171.65" class="tl" text-anchor="end">25</text>
<text x="472" y="299.2" class="al" text-anchor="middle">Measured value(g/kg)</text>
<text transform="translate(388.65,227.8) rotate(-90)" class="al yl" text-anchor="middle">Predictive value(g/kg)</text>
<rect x="503.15" y="173.44" width="39.7" height="15.15" class="lg"/>
<circle class="r" cx="511.55" cy="176.37" r="1.4"/>
<circle class="b" cx="511.55" cy="181.06" r="1.4"/>
<line x1="504.85" y1="186.01" x2="517.95" y2="186.01" class="ll"/>
<text x="519.65" y="177.73" class="lt">Training set</text>
<text x="519.65" y="182.28" class="lt">Validation set</text>
<text x="519.65" y="186.92" class="lt">1:1 Line</text>
<text x="467.65" y="318" class="pl" text-anchor="middle">(<tspan class="pb">f</tspan>)</text>
<circle class="r" cx="128.8" cy="358.8" r="1.4"/>
<circle class="r" cx="110.2" cy="362.5" r="1.4"/>
<circle class="r" cx="110" cy="367.4" r="1.4"/>
<circle class="r" cx="105.9" cy="374" r="1.4"/>
<circle class="r" cx="115.4" cy="373" r="1.4"/>
<circle class="r" cx="95.5" cy="373.2" r="1.4"/>
<circle class="r" cx="100.4" cy="377.5" r="1.4"/>
<circle class="r" cx="100.7" cy="378.7" r="1.4"/>
<circle class="r" cx="109.5" cy="377.1" r="1.4"/>
<circle class="r" cx="110" cy="379.1" r="1.4"/>
<circle class="r" cx="96" cy="382.2" r="1.4"/>
<circle class="r" cx="99.7" cy="385.4" r="1.4"/>
<circle class="r" cx="100.4" cy="388.1" r="1.4"/>
<circle class="r" cx="111.3" cy="390" r="1.4"/>
<circle class="r" cx="107.2" cy="392.8" r="1.4"/>
<circle class="r" cx="85.8" cy="390.2" r="1.4"/>
<circle class="r" cx="88.6" cy="393.5" r="1.4"/>
<circle class="r" cx="80.5" cy="393.1" r="1.4"/>
<circle class="r" cx="91.1" cy="395.4" r="1.4"/>
<circle class="r" cx="87.8" cy="396.8" r="1.4"/>
<circle class="r" cx="94" cy="400" r="1.4"/>
<circle class="r" cx="68.6" cy="399.5" r="1.4"/>
<circle class="r" cx="72.1" cy="400.2" r="1.4"/>
<circle class="r" cx="73.9" cy="402.5" r="1.4"/>
<circle class="r" cx="78.7" cy="399.4" r="1.4"/>
<circle class="r" cx="78.9" cy="404.4" r="1.4"/>
<circle class="r" cx="81.1" cy="405.7" r="1.4"/>
<circle class="r" cx="87.6" cy="404" r="1.4"/>
<circle class="r" cx="88.6" cy="405.6" r="1.4"/>
<circle class="r" cx="87.2" cy="396.6" r="1.4"/>
<circle class="r" cx="78.2" cy="409.3" r="1.4"/>
<circle class="r" cx="69.2" cy="408.6" r="1.4"/>
<circle class="r" cx="73.5" cy="410.3" r="1.4"/>
<circle class="r" cx="67.4" cy="412" r="1.4"/>
<circle class="r" cx="70.3" cy="411.2" r="1.4"/>
<circle class="r" cx="74.6" cy="412.3" r="1.4"/>
<circle class="r" cx="72.6" cy="414.8" r="1.4"/>
<circle class="r" cx="59.6" cy="414.3" r="1.4"/>
<circle class="r" cx="62.9" cy="414.6" r="1.4"/>
<circle class="r" cx="58.7" cy="418" r="1.4"/>
<circle class="r" cx="68.9" cy="417.2" r="1.4"/>
<circle class="r" cx="66.7" cy="418.9" r="1.4"/>
<circle class="r" cx="71.2" cy="420.6" r="1.4"/>
<circle class="r" cx="93.5" cy="414.8" r="1.4"/>
<circle class="r" cx="47" cy="414.6" r="1.4"/>
<circle class="r" cx="50" cy="416.5" r="1.4"/>
<circle class="r" cx="57.3" cy="416.4" r="1.4"/>
<circle class="r" cx="54.7" cy="423.9" r="1.4"/>
<circle class="b" cx="109.1" cy="369.7" r="1.4"/>
<circle class="b" cx="102.6" cy="372.2" r="1.4"/>
<circle class="b" cx="104.2" cy="374.5" r="1.4"/>
<circle class="b" cx="109.5" cy="374" r="1.4"/>
<circle class="b" cx="117.1" cy="378.6" r="1.4"/>
<circle class="b" cx="98.5" cy="383.2" r="1.4"/>
<circle class="b" cx="103.2" cy="386.1" r="1.4"/>
<circle class="b" cx="91.1" cy="384.4" r="1.4"/>
<circle class="b" cx="86.3" cy="393.1" r="1.4"/>
<circle class="b" cx="97.4" cy="395.1" r="1.4"/>
<circle class="b" cx="89.9" cy="400.3" r="1.4"/>
<circle class="b" cx="91.1" cy="399.6" r="1.4"/>
<circle class="b" cx="66.6" cy="400.1" r="1.4"/>
<circle class="b" cx="76.7" cy="399.2" r="1.4"/>
<circle class="b" cx="80.2" cy="402.3" r="1.4"/>
<circle class="b" cx="82.7" cy="401.6" r="1.4"/>
<circle class="b" cx="84.5" cy="404.2" r="1.4"/>
<circle class="b" cx="75.8" cy="405.8" r="1.4"/>
<circle class="b" cx="76.6" cy="406.9" r="1.4"/>
<circle class="b" cx="68" cy="406.3" r="1.4"/>
<circle class="b" cx="64" cy="408.2" r="1.4"/>
<circle class="b" cx="72.1" cy="409" r="1.4"/>
<circle class="b" cx="75.3" cy="417" r="1.4"/>
<circle class="b" cx="68" cy="422.1" r="1.4"/>
<circle class="b" cx="83.2" cy="419.3" r="1.4"/>
<circle class="b" cx="46.5" cy="422.2" r="1.4"/>
<circle class="b" cx="63.5" cy="424.7" r="1.4"/>
<line x1="15.45" y1="452.45" x2="164.45" y2="335.4" class="d"/>
<rect x="15.45" y="335.4" width="149" height="117.05" class="ax"/>
<path d="M31.41 452.45v-1.5M31.41 335.4v1.5M15.45 439.91h1.5M164.45 439.91h-1.5M58.02 452.45v-1.5M58.02 335.4v1.5M15.45 419.01h1.5M164.45 419.01h-1.5M84.63 452.45v-1.5M84.63 335.4v1.5M15.45 398.11h1.5M164.45 398.11h-1.5M111.24 452.45v-1.5M111.24 335.4v1.5M15.45 377.2h1.5M164.45 377.2h-1.5M137.84 452.45v-1.5M137.84 335.4v1.5M15.45 356.3h1.5M164.45 356.3h-1.5M164.45 452.45v-1.5M164.45 335.4v1.5M15.45 335.4h1.5M164.45 335.4h-1.5" class="tk"/>
<text x="31.41" y="460.1" class="tl" text-anchor="middle">0</text>
<text x="13.85" y="442.11" class="tl" text-anchor="end">0</text>
<text x="58.02" y="460.1" class="tl" text-anchor="middle">5</text>
<text x="13.85" y="421.21" class="tl" text-anchor="end">5</text>
<text x="84.63" y="460.1" class="tl" text-anchor="middle">10</text>
<text x="13.85" y="400.31" class="tl" text-anchor="end">10</text>
<text x="111.24" y="460.1" class="tl" text-anchor="middle">15</text>
<text x="13.85" y="379.4" class="tl" text-anchor="end">15</text>
<text x="137.84" y="460.1" class="tl" text-anchor="middle">20</text>
<text x="13.85" y="358.5" class="tl" text-anchor="end">20</text>
<text x="164.45" y="460.1" class="tl" text-anchor="middle">25</text>
<text x="13.85" y="337.6" class="tl" text-anchor="end">25</text>
<text x="89.95" y="465" class="al" text-anchor="middle">Measured value(g/kg)</text>
<text transform="translate(6.55,393.62) rotate(-90)" class="al yl" text-anchor="middle">Predictive value(g/kg)</text>
<rect x="121.15" y="339.38" width="39.7" height="15.12" class="lg"/>
<circle class="r" cx="129.55" cy="342.3" r="1.4"/>
<circle class="b" cx="129.55" cy="346.99" r="1.4"/>
<line x1="122.85" y1="351.93" x2="135.95" y2="351.93" class="ll"/>
<text x="137.65" y="343.66" class="lt">Training set</text>
<text x="137.65" y="348.2" class="lt">Validation set</text>
<text x="137.65" y="352.83" class="lt">1:1 Line</text>
<text x="85.55" y="484" class="pl" text-anchor="middle">(<tspan class="pb">g</tspan>)</text>
<circle class="r" cx="319.1" cy="359.1" r="1.4"/>
<circle class="r" cx="300.4" cy="362.5" r="1.4"/>
<circle class="r" cx="303.3" cy="369.9" r="1.4"/>
<circle class="r" cx="303.7" cy="373.2" r="1.4"/>
<circle class="r" cx="304.5" cy="374.4" r="1.4"/>
<circle class="r" cx="285.9" cy="373.3" r="1.4"/>
<circle class="r" cx="296" cy="374" r="1.4"/>
<circle class="r" cx="298.7" cy="374.4" r="1.4"/>
<circle class="r" cx="289" cy="378.5" r="1.4"/>
<circle class="r" cx="303.7" cy="379.3" r="1.4"/>
<circle class="r" cx="307.4" cy="378.7" r="1.4"/>
<circle class="r" cx="289.2" cy="382.3" r="1.4"/>
<circle class="r" cx="290.2" cy="384.2" r="1.4"/>
<circle class="r" cx="291" cy="386.1" r="1.4"/>
<circle class="r" cx="297.2" cy="385.6" r="1.4"/>
<circle class="r" cx="293.5" cy="388.6" r="1.4"/>
<circle class="r" cx="295.5" cy="390" r="1.4"/>
<circle class="r" cx="284.5" cy="395.4" r="1.4"/>
<circle class="r" cx="289.4" cy="395.6" r="1.4"/>
<circle class="r" cx="276.6" cy="390.4" r="1.4"/>
<circle class="r" cx="276.6" cy="396.5" r="1.4"/>
<circle class="r" cx="278.8" cy="400.5" r="1.4"/>
<circle class="r" cx="283.5" cy="400" r="1.4"/>
<circle class="r" cx="283.5" cy="414.7" r="1.4"/>
<circle class="r" cx="269.2" cy="399.4" r="1.4"/>
<circle class="r" cx="264.5" cy="402.7" r="1.4"/>
<circle class="r" cx="265.7" cy="404.4" r="1.4"/>
<circle class="r" cx="270.6" cy="403.6" r="1.4"/>
<circle class="r" cx="272.1" cy="402.5" r="1.4"/>
<circle class="r" cx="274.6" cy="406.6" r="1.4"/>
<circle class="r" cx="268.6" cy="410.6" r="1.4"/>
<circle class="r" cx="252.4" cy="408" r="1.4"/>
<circle class="r" cx="254.9" cy="406.6" r="1.4"/>
<circle class="r" cx="252.8" cy="410.6" r="1.4"/>
<circle class="r" cx="260.8" cy="410.2" r="1.4"/>
<circle class="r" cx="261.8" cy="412" r="1.4"/>
<circle class="r" cx="263.3" cy="412.8" r="1.4"/>
<circle class="r" cx="262.4" cy="414.7" r="1.4"/>
<circle class="r" cx="261.1" cy="416.4" r="1.4"/>
<circle class="r" cx="259.9" cy="418.9" r="1.4"/>
<circle class="r" cx="268.1" cy="419.9" r="1.4"/>
<circle class="r" cx="248.6" cy="422.1" r="1.4"/>
<circle class="r" cx="251.1" cy="423.5" r="1.4"/>
<circle class="r" cx="253.2" cy="424.9" r="1.4"/>
<circle class="r" cx="235.1" cy="414.9" r="1.4"/>
<circle class="r" cx="235.2" cy="422.1" r="1.4"/>
<circle class="r" cx="243" cy="416.4" r="1.4"/>
<circle class="b" cx="301.4" cy="367.9" r="1.4"/>
<circle class="b" cx="292.4" cy="372.4" r="1.4"/>
<circle class="b" cx="294.6" cy="377.4" r="1.4"/>
<circle class="b" cx="292.1" cy="377.9" r="1.4"/>
<circle class="b" cx="283.8" cy="383.2" r="1.4"/>
<circle class="b" cx="285.8" cy="384.3" r="1.4"/>
<circle class="b" cx="293.1" cy="385.9" r="1.4"/>
<circle class="b" cx="301.7" cy="392.8" r="1.4"/>
<circle class="b" cx="280.4" cy="393.6" r="1.4"/>
<circle class="b" cx="278.2" cy="393.1" r="1.4"/>
<circle class="b" cx="279.9" cy="393.9" r="1.4"/>
<circle class="b" cx="282.6" cy="400.6" r="1.4"/>
<circle class="b" cx="283.1" cy="404.9" r="1.4"/>
<circle class="b" cx="252.5" cy="399.8" r="1.4"/>
<circle class="b" cx="263.5" cy="400.5" r="1.4"/>
<circle class="b" cx="268.2" cy="400.2" r="1.4"/>
<circle class="b" cx="263.8" cy="401.3" r="1.4"/>
<circle class="b" cx="274.4" cy="404.1" r="1.4"/>
<circle class="b" cx="267.3" cy="406.3" r="1.4"/>
<circle class="b" cx="268.8" cy="408.9" r="1.4"/>
<circle class="b" cx="257.6" cy="407.1" r="1.4"/>
<circle class="b" cx="258.5" cy="408.9" r="1.4"/>
<circle class="b" cx="262.4" cy="421" r="1.4"/>
<circle class="b" cx="267.1" cy="417.2" r="1.4"/>
<circle class="b" cx="251.3" cy="414.5" r="1.4"/>
<circle class="b" cx="254.3" cy="414.7" r="1.4"/>
<circle class="b" cx="246.1" cy="415.9" r="1.4"/>
<circle class="b" cx="247.5" cy="417.4" r="1.4"/>
<circle class="b" cx="248.1" cy="418.8" r="1.4"/>
<circle class="b" cx="246" cy="416" r="1.4"/>
<line x1="206.55" y1="452.45" x2="355.45" y2="335.4" class="d"/>
<rect x="206.55" y="335.4" width="148.9" height="117.05" class="ax"/>
<path d="M222.5 452.45v-1.5M222.5 335.4v1.5M206.55 439.91h1.5M355.45 439.91h-1.5M249.09 452.45v-1.5M249.09 335.4v1.5M206.55 419.01h1.5M355.45 419.01h-1.5M275.68 452.45v-1.5M275.68 335.4v1.5M206.55 398.11h1.5M355.45 398.11h-1.5M302.27 452.45v-1.5M302.27 335.4v1.5M206.55 377.2h1.5M355.45 377.2h-1.5M328.86 452.45v-1.5M328.86 335.4v1.5M206.55 356.3h1.5M355.45 356.3h-1.5M355.45 452.45v-1.5M355.45 335.4v1.5M206.55 335.4h1.5M355.45 335.4h-1.5" class="tk"/>
<text x="222.5" y="460.1" class="tl" text-anchor="middle">0</text>
<text x="204.95" y="442.11" class="tl" text-anchor="end">0</text>
<text x="249.09" y="460.1" class="tl" text-anchor="middle">5</text>
<text x="204.95" y="421.21" class="tl" text-anchor="end">5</text>
<text x="275.68" y="460.1" class="tl" text-anchor="middle">10</text>
<text x="204.95" y="400.31" class="tl" text-anchor="end">10</text>
<text x="302.27" y="460.1" class="tl" text-anchor="middle">15</text>
<text x="204.95" y="379.4" class="tl" text-anchor="end">15</text>
<text x="328.86" y="460.1" class="tl" text-anchor="middle">20</text>
<text x="204.95" y="358.5" class="tl" text-anchor="end">20</text>
<text x="355.45" y="460.1" class="tl" text-anchor="middle">25</text>
<text x="204.95" y="337.6" class="tl" text-anchor="end">25</text>
<text x="281" y="465" class="al" text-anchor="middle">Measured value(g/kg)</text>
<text transform="translate(197.65,393.62) rotate(-90)" class="al yl" text-anchor="middle">Predictive value(g/kg)</text>
<rect x="312.15" y="339.38" width="39.7" height="15.12" class="lg"/>
<circle class="r" cx="320.55" cy="342.3" r="1.4"/>
<circle class="b" cx="320.55" cy="346.99" r="1.4"/>
<line x1="313.85" y1="351.93" x2="326.95" y2="351.93" class="ll"/>
<text x="328.65" y="343.66" class="lt">Training set</text>
<text x="328.65" y="348.2" class="lt">Validation set</text>
<text x="328.65" y="352.83" class="lt">1:1 Line</text>
<text x="276.65" y="484" class="pl" text-anchor="middle">(<tspan class="pb">h</tspan>)</text>
<circle class="r" cx="506.8" cy="362.5" r="1.4"/>
<circle class="r" cx="470.8" cy="367.7" r="1.4"/>
<circle class="r" cx="501.9" cy="369.6" r="1.4"/>
<circle class="r" cx="498.6" cy="372" r="1.4"/>
<circle class="r" cx="492.5" cy="372.8" r="1.4"/>
<circle class="r" cx="483.5" cy="373.8" r="1.4"/>
<circle class="r" cx="482.9" cy="378.7" r="1.4"/>
<circle class="r" cx="490.9" cy="378.3" r="1.4"/>
<circle class="r" cx="494.5" cy="377.5" r="1.4"/>
<circle class="r" cx="487.6" cy="382.4" r="1.4"/>
<circle class="r" cx="478.6" cy="383.2" r="1.4"/>
<circle class="r" cx="483.1" cy="384.4" r="1.4"/>
<circle class="r" cx="481.5" cy="385.9" r="1.4"/>
<circle class="r" cx="478.2" cy="388.5" r="1.4"/>
<circle class="r" cx="476.1" cy="389.8" r="1.4"/>
<circle class="r" cx="471.7" cy="392.9" r="1.4"/>
<circle class="r" cx="466.2" cy="392.6" r="1.4"/>
<circle class="r" cx="467.9" cy="396.3" r="1.4"/>
<circle class="r" cx="464.5" cy="398.9" r="1.4"/>
<circle class="r" cx="465.6" cy="399.7" r="1.4"/>
<circle class="r" cx="462.7" cy="401.2" r="1.4"/>
<circle class="r" cx="461.6" cy="402.3" r="1.4"/>
<circle class="r" cx="471.9" cy="400.6" r="1.4"/>
<circle class="r" cx="476.4" cy="400" r="1.4"/>
<circle class="r" cx="457.3" cy="400" r="1.4"/>
<circle class="r" cx="466.4" cy="404.4" r="1.4"/>
<circle class="r" cx="450.6" cy="403.8" r="1.4"/>
<circle class="r" cx="456.4" cy="406.2" r="1.4"/>
<circle class="r" cx="455" cy="407.9" r="1.4"/>
<circle class="r" cx="453.2" cy="408.9" r="1.4"/>
<circle class="r" cx="451.5" cy="409.9" r="1.4"/>
<circle class="r" cx="458" cy="412.4" r="1.4"/>
<circle class="r" cx="450.2" cy="412" r="1.4"/>
<circle class="r" cx="445.2" cy="414.4" r="1.4"/>
<circle class="r" cx="446.9" cy="418" r="1.4"/>
<circle class="r" cx="459.7" cy="417.4" r="1.4"/>
<circle class="r" cx="462.5" cy="422.3" r="1.4"/>
<circle class="r" cx="437.2" cy="422.3" r="1.4"/>
<circle class="r" cx="455.5" cy="407.2" r="1.4"/>
<circle class="b" cx="486.6" cy="358.7" r="1.4"/>
<circle class="b" cx="497.8" cy="374.5" r="1.4"/>
<circle class="b" cx="491.4" cy="373.8" r="1.4"/>
<circle class="b" cx="474.2" cy="390.3" r="1.4"/>
<circle class="b" cx="473.5" cy="392.8" r="1.4"/>
<circle class="b" cx="469" cy="393.4" r="1.4"/>
<circle class="b" cx="480.4" cy="404.6" r="1.4"/>
<circle class="b" cx="457.8" cy="395.4" r="1.4"/>
<circle class="b" cx="458.7" cy="402.4" r="1.4"/>
<circle class="b" cx="460.1" cy="404.2" r="1.4"/>
<circle class="b" cx="461.6" cy="405.6" r="1.4"/>
<circle class="b" cx="471.2" cy="406.3" r="1.4"/>
<circle class="b" cx="457.3" cy="410" r="1.4"/>
<circle class="b" cx="456.1" cy="412.1" r="1.4"/>
<circle class="b" cx="449.2" cy="411" r="1.4"/>
<circle class="b" cx="449.6" cy="414.2" r="1.4"/>
<circle class="b" cx="451.6" cy="414.7" r="1.4"/>
<circle class="b" cx="444.6" cy="417" r="1.4"/>
<circle class="b" cx="442.5" cy="418.9" r="1.4"/>
<circle class="b" cx="456" cy="419.3" r="1.4"/>
<circle class="b" cx="473.1" cy="419.2" r="1.4"/>
<circle class="b" cx="437.7" cy="407" r="1.4"/>
<circle class="b" cx="433.7" cy="424.2" r="1.4"/>
<circle class="b" cx="443" cy="421" r="1.4"/>
<line x1="397.55" y1="452.45" x2="546.45" y2="335.4" class="d"/>
<rect x="397.55" y="335.4" width="148.9" height="117.05" class="ax"/>
<path d="M413.5 452.45v-1.5M413.5 335.4v1.5M397.55 439.91h1.5M546.45 439.91h-1.5M440.09 452.45v-1.5M440.09 335.4v1.5M397.55 419.01h1.5M546.45 419.01h-1.5M466.68 452.45v-1.5M466.68 335.4v1.5M397.55 398.11h1.5M546.45 398.11h-1.5M493.27 452.45v-1.5M493.27 335.4v1.5M397.55 377.2h1.5M546.45 377.2h-1.5M519.86 452.45v-1.5M519.86 335.4v1.5M397.55 356.3h1.5M546.45 356.3h-1.5M546.45 452.45v-1.5M546.45 335.4v1.5M397.55 335.4h1.5M546.45 335.4h-1.5" class="tk"/>
<text x="413.5" y="460.1" class="tl" text-anchor="middle">0</text>
<text x="395.95" y="442.11" class="tl" text-anchor="end">0</text>
<text x="440.09" y="460.1" class="tl" text-anchor="middle">5</text>
<text x="395.95" y="421.21" class="tl" text-anchor="end">5</text>
<text x="466.68" y="460.1" class="tl" text-anchor="middle">10</text>
<text x="395.95" y="400.31" class="tl" text-anchor="end">10</text>
<text x="493.27" y="460.1" class="tl" text-anchor="middle">15</text>
<text x="395.95" y="379.4" class="tl" text-anchor="end">15</text>
<text x="519.86" y="460.1" class="tl" text-anchor="middle">20</text>
<text x="395.95" y="358.5" class="tl" text-anchor="end">20</text>
<text x="546.45" y="460.1" class="tl" text-anchor="middle">25</text>
<text x="395.95" y="337.6" class="tl" text-anchor="end">25</text>
<text x="472" y="465" class="al" text-anchor="middle">Measured value(g/kg)</text>
<text transform="translate(388.65,393.62) rotate(-90)" class="al yl" text-anchor="middle">Predictive value(g/kg)</text>
<rect x="503.15" y="339.38" width="39.7" height="15.12" class="lg"/>
<circle class="r" cx="511.55" cy="342.3" r="1.4"/>
<circle class="b" cx="511.55" cy="346.99" r="1.4"/>
<line x1="504.85" y1="351.93" x2="517.95" y2="351.93" class="ll"/>
<text x="519.65" y="343.66" class="lt">Training set</text>
<text x="519.65" y="348.2" class="lt">Validation set</text>
<text x="519.65" y="352.83" class="lt">1:1 Line</text>
<text x="467.65" y="484" class="pl" text-anchor="middle">(<tspan class="pb">i</tspan>)</text>
</svg>
</body></html>
